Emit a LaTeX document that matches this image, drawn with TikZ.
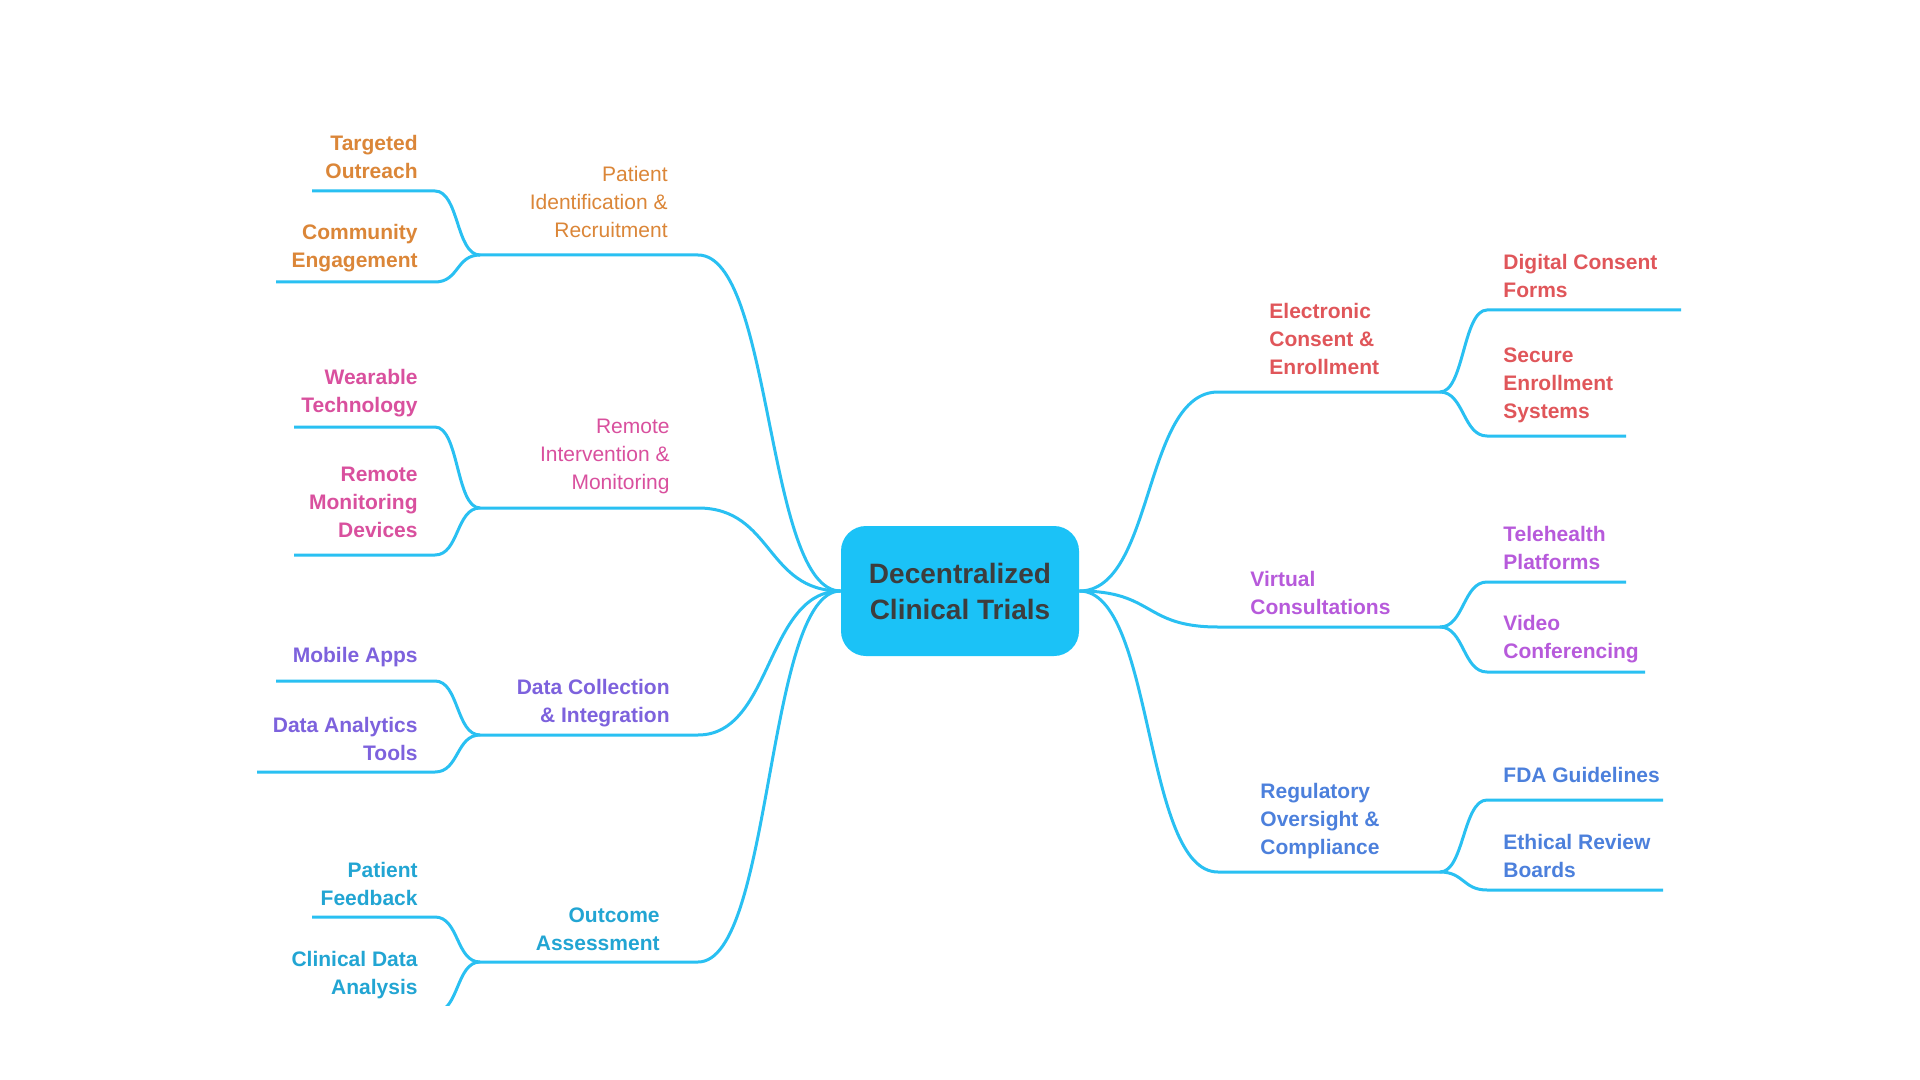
\documentclass[tikz,border=0pt]{standalone}
\usepackage{fontspec}
\setmainfont{Liberation Sans}
\definecolor{linec}{HTML}{29C0F2}
\definecolor{boxc}{HTML}{1BC2F7}
\definecolor{textc}{HTML}{3D3D3D}
\definecolor{corange}{HTML}{DB8638}
\definecolor{cpink}{HTML}{D9509E}
\definecolor{cpurple}{HTML}{7D62DD}
\definecolor{cteal}{HTML}{22A5D3}
\definecolor{cred}{HTML}{E0565A}
\definecolor{cviolet}{HTML}{B75ADB}
\definecolor{cblue}{HTML}{4C80DC}
\begin{document}
\begin{tikzpicture}[x=0.5pt,y=-0.5pt,
  conn/.style={draw=linec, line width=1.5pt},
  central/.style={fill=boxc, rounded corners=12.5pt, minimum width=119pt, minimum height=65pt,
    text=textc, font=\fontsize{14}{18}\selectfont\bfseries, align=center, inner sep=0pt},
  lbl/.style={inner sep=0pt, font=\fontsize{10.5}{14}\selectfont\bfseries},
  lblreg/.style={inner sep=0pt, font=\fontsize{10.5}{14}\selectfont},
  onleft/.style={anchor=east, align=right},
  onright/.style={anchor=west, align=left},
]
\path[use as bounding box, fill=white] (0,0) rectangle (1920,1080);

% central topic
\node[central] (c) at (960,591) {Decentralized\\Clinical Trials};

% coordinates of branch lines
\coordinate (pA) at (698,255);  \coordinate (pF) at (480,255);
\coordinate (t1) at (435,191);  \coordinate (t2) at (312,191);
\coordinate (u1) at (435,282);  \coordinate (u2) at (276,282);

\coordinate (rA) at (698,508);  \coordinate (rF) at (480,508);
\coordinate (w1) at (435,427);  \coordinate (w2) at (294,427);
\coordinate (m1) at (435,555);  \coordinate (m2) at (294,555);

\coordinate (dA) at (698,735);  \coordinate (dF) at (480,735);
\coordinate (a1) at (435,681);  \coordinate (a2) at (276,681);
\coordinate (b1) at (435,772);  \coordinate (b2) at (257,772);

\coordinate (oA) at (698,962);  \coordinate (oF) at (480,962);
\coordinate (f1) at (435,917);  \coordinate (f2) at (312,917);
\coordinate (k1) at (435,1012); \coordinate (k2) at (300,1012);

\coordinate (eA) at (1218,392); \coordinate (eF) at (1440,392);
\coordinate (g1) at (1487,310); \coordinate (g2) at (1681,310);
\coordinate (s1) at (1487,436); \coordinate (s2) at (1626,436);

\coordinate (vA) at (1218,627); \coordinate (vF) at (1440,627);
\coordinate (h1) at (1487,582); \coordinate (h2) at (1626,582);
\coordinate (x1) at (1487,672); \coordinate (x2) at (1645,672);

\coordinate (qA) at (1218,872); \coordinate (qF) at (1440,872);
\coordinate (y1) at (1487,800); \coordinate (y2) at (1663,800);
\coordinate (z1) at (1487,890); \coordinate (z2) at (1663,890);

\begin{scope}
\clip (0,0) rectangle (1920,1005);
% left main branches
\foreach \A/\F in {pA/pF, rA/rF, dA/dF, oA/oF}{
  \draw[conn] (c.west) .. controls +(-75,0) and +(75,0) .. (\A) -- (\F);
}
% right main branches
\foreach \A/\F in {eA/eF, vA/vF, qA/qF}{
  \draw[conn] (c.east) .. controls +(75,0) and +(-75,0) .. (\A) -- (\F);
}
% left sub branches
\foreach \F/\P/\Q in {pF/t1/t2, pF/u1/u2, rF/w1/w2, rF/m1/m2, dF/a1/a2, dF/b1/b2, oF/f1/f2, oF/k1/k2}{
  \draw[conn] (\F) .. controls +(-24,0) and +(24,0) .. (\P) -- (\Q);
}
% right sub branches
\foreach \F/\P/\Q in {eF/g1/g2, eF/s1/s2, vF/h1/h2, vF/x1/x2, qF/y1/y2, qF/z1/z2}{
  \draw[conn] (\F) .. controls +(24,0) and +(-24,0) .. (\P) -- (\Q);
}
\end{scope}

% left labels
\node[lblreg, onleft, text=corange] (pid) at (668,202) {Patient\\Identification \&\\Recruitment};
\node[lbl, onleft, text=corange] (tout) at (418,157) {Targeted\\Outreach};
\node[lbl, onleft, text=corange] (ceng) at (418,248) {Community\\Engagement};

\node[lblreg, onleft, text=cpink] (rim) at (670,456) {Remote\\Intervention \&\\Monitoring};
\node[lbl, onleft, text=cpink] (wear) at (418,393) {Wearable\\Technology};
\node[lbl, onleft, text=cpink] (rmd) at (418,502) {Remote\\Monitoring\\Devices};

\node[lbl, onleft, text=cpurple] (dci) at (670,703) {Data Collection\\\& Integration};
\node[lbl, onleft, text=cpurple] (mob) at (418,657) {Mobile Apps};
\node[lbl, onleft, text=cpurple] (dat) at (418,739) {Data Analytics\\Tools};

\node[lbl, onleft, text=cteal] (oas) at (660,929) {Outcome\\Assessment};
\node[lbl, onleft, text=cteal] (pfb) at (418,884) {Patient\\Feedback};
\node[lbl, onleft, text=cteal] (cda) at (418,975) {Clinical Data\\Analysis};

% right labels
\node[lbl, onright, text=cred] (ece) at (1269,339) {Electronic\\Consent \&\\Enrollment};
\node[lbl, onright, text=cred] (dcf) at (1503,276) {Digital Consent\\Forms};
\node[lbl, onright, text=cred] (ses) at (1503,385) {Secure\\Enrollment\\Systems};

\node[lbl, onright, text=cviolet] (vco) at (1250,593) {Virtual\\Consultations};
\node[lbl, onright, text=cviolet] (tel) at (1503,548) {Telehealth\\Platforms};
\node[lbl, onright, text=cviolet] (vid) at (1503,639) {Video\\Conferencing};

\node[lbl, onright, text=cblue] (roc) at (1260,821) {Regulatory\\Oversight \&\\Compliance};
\node[lbl, onright, text=cblue] (fda) at (1503,775) {FDA Guidelines};
\node[lbl, onright, text=cblue] (erb) at (1503,856) {Ethical Review\\Boards};
\end{tikzpicture}
\end{document}
